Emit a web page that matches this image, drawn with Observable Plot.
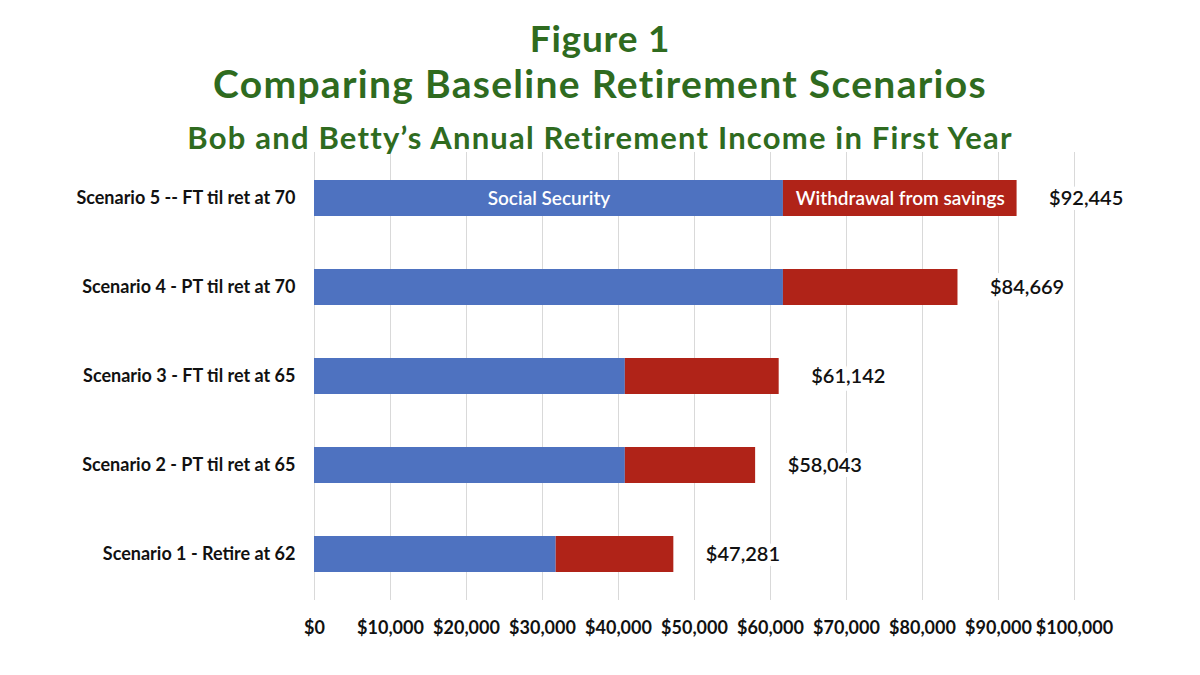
<!DOCTYPE html>
<html>
<head>
<meta charset="utf-8">
<script src="https://cdn.jsdelivr.net/npm/d3@7"></script>
<script src="https://cdn.jsdelivr.net/npm/@observablehq/plot@0.6"></script>
<style>
  html, body { margin: 0; padding: 0; background: #fff; }
  #wrap { width: 1200px; height: 675px; position: relative; overflow: hidden; font-family: Lato, "Open Sans", sans-serif; }
  #title { position: relative; width: 1200px; height: 152px; }
  #title div { position: absolute; left: 0; width: 1200px; text-align: center; color: #2F6B1F; font-weight: 700; line-height: 0.9; white-space: nowrap; }
  #t1 { top: 21px; font-size: 37px; letter-spacing: 0.8px; }
  #t2 { top: 66px; font-size: 39px; letter-spacing: 1.3px; }
  #t3 { top: 124px; font-size: 31px; letter-spacing: 1.2px; }
  #chart svg { display: block; }
</style>
</head>
<body>
<div id="wrap">
  <div id="title">
    <div id="t1">Figure 1</div>
    <div id="t2">Comparing Baseline Retirement Scenarios</div>
    <div id="t3">Bob and Betty’s Annual Retirement Income in First Year</div>
  </div>
  <div id="chart"></div>
</div>
<script>
// ---- data ----
const scenarios = [
  "Scenario 5 -- FT til ret at 70",
  "Scenario 4 - PT til ret at 70",
  "Scenario 3 - FT til ret at 65",
  "Scenario 2 - PT til ret at 65",
  "Scenario 1 - Retire at 62"
];
const components = ["Social Security", "Withdrawal from savings"];
const socialSecurity = [61700, 61700, 40900, 40900, 31800];
const withdrawal = [30745, 22969, 20242, 17143, 15481];
const totals = [92445, 84669, 61142, 58043, 47281];
const xTicks = [0, 10000, 20000, 30000, 40000, 50000, 60000, 70000, 80000, 90000, 100000];

// ---- tables built from the arrays ----
const rows = [];
scenarios.forEach((s, i) => {
  rows.push({scenario: s, component: components[0], value: socialSecurity[i]});
  rows.push({scenario: s, component: components[1], value: withdrawal[i]});
});
const totalRows = scenarios.map((s, i) => ({scenario: s, total: totals[i]}));
const insideLabels = [
  {scenario: scenarios[0], text: components[0], x: socialSecurity[0] / 2},
  {scenario: scenarios[0], text: components[1], x: socialSecurity[0] + withdrawal[0] / 2}
];

const fmt = d3.format("$,");

const chart = Plot.plot({
  width: 1200,
  height: 523,
  marginTop: 0,
  marginBottom: 75,
  marginLeft: 314,
  marginRight: 126,
  style: {fontFamily: "Lato, 'Open Sans', sans-serif", background: "#fff"},
  x: {domain: [0, 100000], ticks: xTicks, tickFormat: fmt, grid: false, label: null},
  y: {domain: scenarios, paddingInner: 0.6, paddingOuter: 0.3, align: 0.5, label: null},
  color: {domain: components, range: ["#4E72C0", "#B02318"]},
  marks: [
    Plot.gridX(xTicks, {stroke: "#d9d9d9", strokeOpacity: 1, strokeWidth: 1}),
    Plot.barX(rows, {x: "value", y: "scenario", fill: "component", order: components}),
    Plot.text(totalRows, {
      x: "total", y: "scenario", text: d => fmt(d.total),
      dx: 32, textAnchor: "start", fontSize: 20, fontWeight: 600, fill: "#111",
      stroke: "white", strokeWidth: 10, paintOrder: "stroke"
    }),
    Plot.text(insideLabels, {
      x: "x", y: "scenario", text: "text",
      fill: "white", fontSize: 19, fontWeight: 600
    }),
    Plot.axisX(xTicks, {
      tickSize: 0, tickPadding: 21, tickFormat: fmt,
      fontSize: 18, fontWeight: 700, fill: "#111", label: null
    }),
    Plot.axisY({
      tickSize: 0, tickPadding: 19, fontSize: 18, fontWeight: 700,
      fill: "#111", label: null
    })
  ]
});
document.getElementById("chart").appendChild(chart);
</script>
</body>
</html>
